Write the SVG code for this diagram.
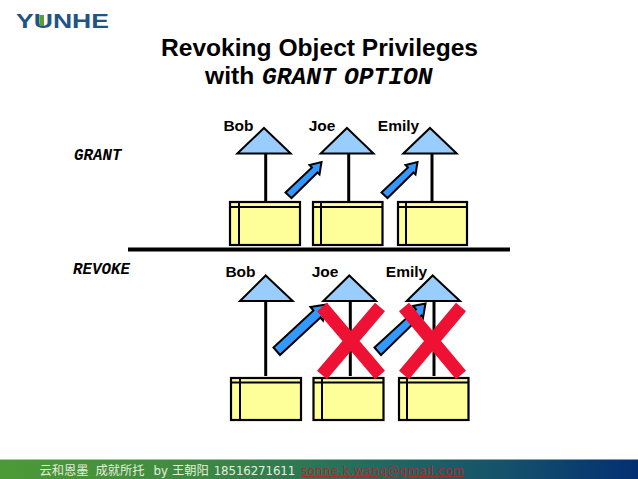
<svg xmlns="http://www.w3.org/2000/svg" width="638" height="479" viewBox="0 0 638 479">
<defs>
<linearGradient id="foot" x1="0" x2="1" y1="0" y2="0"><stop offset="0" stop-color="#4c9a36"/><stop offset="0.3" stop-color="#3f8a42"/><stop offset="0.55" stop-color="#24705c"/><stop offset="0.8" stop-color="#14506c"/><stop offset="1" stop-color="#032f72"/></linearGradient>
</defs>
<style>
text{font-family:"Liberation Sans",Arial,sans-serif;fill:#000}
.t{font-size:24.600px;font-weight:bold}
.m{font-family:"Liberation Mono","Courier New",monospace;font-weight:bold;font-style:italic}
.n{font-size:15.500px;font-weight:bold;text-anchor:middle}
.f{font-family:"DejaVu Sans","Noto Sans CJK SC",sans-serif;font-size:11.800px;fill:#e4ecdc}
.c{font-family:"Noto Sans CJK SC",sans-serif;font-size:12.250px;fill:#e4ecdc}
.tri{fill:#99ccff;stroke:#000;stroke-width:2}
.stem{stroke:#000;stroke-width:3;fill:none}
.box{fill:#ffff99;stroke:#000;stroke-width:2.2}
.ln{stroke:#000;stroke-width:2;fill:none}
.arr{fill:#3399ff;stroke:#000;stroke-width:2}
.x{stroke:#ee1133;stroke-width:13;fill:none}
</style>
<rect width="638" height="479" fill="#fff"/>
<g id="logo">
<text x="16" y="28" textLength="93" lengthAdjust="spacingAndGlyphs" style="font-size:20.500px;font-weight:bold;fill:#1f5585">YUNHE</text>
<rect x="39.500" y="15" width="4.500" height="11" fill="#5aa02c"/>
</g>
<g id="title">
<text class="t" x="319.500" y="56" text-anchor="middle">Revoking Object Privileges</text>
<text class="t" x="205" y="84">with</text>
<text class="t m" x="262" y="84">GRANT</text>
<text class="t m" x="344" y="84">OPTION</text>
</g>
<g id="labels">
<text class="m" x="74" y="160" style="font-size:15.800px">GRANT</text>
<text class="m" x="73" y="274" style="font-size:15.800px">REVOKE</text>
</g>
<g id="connectors">
<path d="M128 249.500H510" stroke="#000" stroke-width="4" fill="none"/>
<path class="arr" d="M285.500 192.500L312 167.500L309.500 165L321.500 162L319.500 174.500L317.500 172.500L291.500 198Z"/>
<path class="arr" d="M381.500 192.500L408 167.500L405.500 165L417.500 162L415.500 174.500L413.500 172.500L387.500 198Z"/>
<path class="arr" d="M273.500 347.500L313.500 310.500L310.500 307L326.500 304.500L323 320.500L320.500 317.500L280 355Z"/>
<path class="arr" d="M374.500 347.500L416 309.500L413 306L425.500 303.500L423 318L421.500 315.500L381 355Z"/>
</g>
<g id="bob-top">
<text class="n" x="238.500" y="131">Bob</text>
<path class="stem" d="M265.700 154V201"/>
<path class="tri" d="M264 128L290.700 153.500H237.300Z"/>
<rect class="box" x="230" y="202" width="70" height="43"/><path class="ln" d="M230 207H300M239 202V245"/>
</g>
<g id="joe-top">
<text class="n" x="322" y="131">Joe</text>
<path class="stem" d="M348.700 154V201"/>
<path class="tri" d="M347 128L373.500 153.500H320.700Z"/>
<rect class="box" x="313" y="202" width="69.500" height="43"/><path class="ln" d="M313 207H382.500M321 202V245"/>
</g>
<g id="emily-top">
<text class="n" x="398.500" y="131">Emily</text>
<path class="stem" d="M432 154V201"/>
<path class="tri" d="M430 128L456.700 153.500H403.300Z"/>
<rect class="box" x="398" y="202" width="69" height="43"/><path class="ln" d="M398 207H467M406 202V245"/>
</g>
<g id="bob-bottom">
<text class="n" x="240.500" y="276.500">Bob</text>
<path class="stem" d="M265.700 301V376"/>
<path class="tri" d="M265.700 275.500L292.700 301H240Z"/>
<rect class="box" x="231" y="378" width="70" height="42"/><path class="ln" d="M231 382.500H301M240 378V420"/>
</g>
<g id="joe-bottom">
<text class="n" x="325" y="276.500">Joe</text>
<path class="stem" d="M350.300 301V376"/>
<path class="tri" d="M349.300 275.500L376 301H323.300Z"/>
<rect class="box" x="313.500" y="378" width="70" height="42"/><path class="ln" d="M313.500 382.500H383.500M322 378V420"/>
</g>
<g id="emily-bottom">
<text class="n" x="406.500" y="276.500">Emily</text>
<path class="stem" d="M434 301V376"/>
<path class="tri" d="M432.700 275.500L460 301H406.700Z"/>
<rect class="box" x="399" y="378" width="69.500" height="42"/><path class="ln" d="M399 382.500H468.500M407 378V420"/>
</g>
<g id="crosses">
<path class="x" d="M322 307L380 375M380 307L322 375"/>
<path class="x" d="M404 307L461 375M461 307L404 375"/>
</g>
<g id="footer">
<rect x="0" y="459.500" width="638" height="19.500" fill="url(#foot)"/>
<text class="c" x="39.500" y="475">云和恩墨</text>
<text class="c" x="95.600" y="475">成就所托</text>
<text class="f" x="153.400" y="475">by</text>
<text class="c" x="172" y="475">王朝阳</text>
<text class="f" x="213.700" y="475" textLength="81.500">18516271611</text>
<text class="f" x="301" y="475" textLength="163" style="fill:#a82e2e;text-decoration:underline">sonne.k.wang@gmail.com</text>
</g>
</svg>
